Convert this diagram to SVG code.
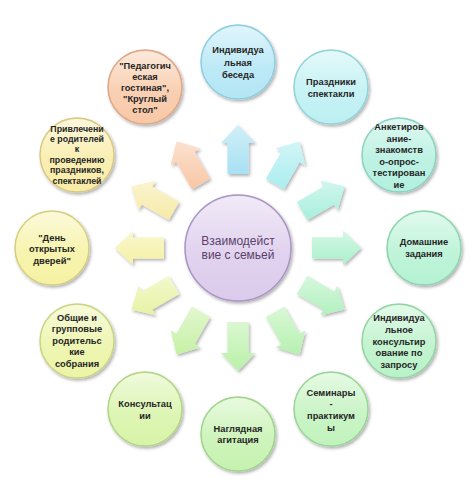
<svg xmlns="http://www.w3.org/2000/svg" width="474" height="488" viewBox="0 0 474 488">
<defs>
<filter id="sh" x="-25%" y="-25%" width="160%" height="160%"><feDropShadow dx="1.5" dy="2" stdDeviation="1.6" flood-color="#000" flood-opacity="0.3"/></filter>
<linearGradient id="gl" x1="0" y1="0" x2="0" y2="1"><stop offset="0" stop-color="#fff" stop-opacity="0.6"/><stop offset="0.55" stop-color="#fff" stop-opacity="0.15"/><stop offset="1" stop-color="#fff" stop-opacity="0"/></linearGradient>
<linearGradient id="ga" x1="0" y1="0" x2="0" y2="1"><stop offset="0" stop-color="#fff" stop-opacity="0.5"/><stop offset="1" stop-color="#fff" stop-opacity="0.05"/></linearGradient>
</defs>
<style>
.c{stroke-width:1.5;filter:url(#sh)}
.o{fill:url(#gl);stroke:none}
.a{filter:url(#sh);stroke:none}
.ao{fill:url(#ga);stroke:none}
.t{font-family:"Liberation Sans",Arial,sans-serif;font-weight:bold;font-size:9.3px;fill:#262626;text-anchor:middle}
.s{font-size:8.8px}
.m{font-family:"Liberation Sans",Arial,sans-serif;font-size:12px;fill:#5b3f6b;text-anchor:middle}
</style>
<rect width="474" height="488" fill="#fff"/>
<g id="connectors">
<polygon class="a" fill="#a3dff2" points="227.5,174 227.5,143 221,143 238,125 255,143 248.5,143 248.5,174"/>
<polygon class="ao" points="227.5,174 227.5,143 221,143 238,125 255,143 248.5,143 248.5,174"/>
<polygon class="a" fill="#a6ecef" points="265.91,178.67 281.41,151.82 275.78,148.57 299.5,141.48 305.22,165.57 299.59,162.32 284.09,189.17"/>
<polygon class="ao" points="265.91,178.67 281.41,151.82 275.78,148.57 299.5,141.48 305.22,165.57 299.59,162.32 284.09,189.17"/>
<polygon class="a" fill="#a3eedb" points="296.83,201.91 323.68,186.41 320.43,180.78 344.52,186.5 337.43,210.22 334.18,204.59 307.33,220.09"/>
<polygon class="ao" points="296.83,201.91 323.68,186.41 320.43,180.78 344.52,186.5 337.43,210.22 334.18,204.59 307.33,220.09"/>
<polygon class="a" fill="#a6f0c9" points="312,237.5 343,237.5 343,231 361,248 343,265 343,258.5 312,258.5"/>
<polygon class="ao" points="312,237.5 343,237.5 343,231 361,248 343,265 343,258.5 312,258.5"/>
<polygon class="a" fill="#aef0bb" points="307.33,275.91 334.18,291.41 337.43,285.78 344.52,309.5 320.43,315.22 323.68,309.59 296.83,294.09"/>
<polygon class="ao" points="307.33,275.91 334.18,291.41 337.43,285.78 344.52,309.5 320.43,315.22 323.68,309.59 296.83,294.09"/>
<polygon class="a" fill="#b3f0ad" points="284.09,306.83 299.59,333.68 305.22,330.43 299.5,354.52 275.78,347.43 281.41,344.18 265.91,317.33"/>
<polygon class="ao" points="284.09,306.83 299.59,333.68 305.22,330.43 299.5,354.52 275.78,347.43 281.41,344.18 265.91,317.33"/>
<polygon class="a" fill="#b6f0a4" points="248.5,322 248.5,353 255,353 238,371 221,353 227.5,353 227.5,322"/>
<polygon class="ao" points="248.5,322 248.5,353 255,353 238,371 221,353 227.5,353 227.5,322"/>
<polygon class="a" fill="#c4f0a0" points="210.09,317.33 194.59,344.18 200.22,347.43 176.5,354.52 170.78,330.43 176.41,333.68 191.91,306.83"/>
<polygon class="ao" points="210.09,317.33 194.59,344.18 200.22,347.43 176.5,354.52 170.78,330.43 176.41,333.68 191.91,306.83"/>
<polygon class="a" fill="#e6f29e" points="179.17,294.09 152.32,309.59 155.57,315.22 131.48,309.5 138.57,285.78 141.82,291.41 168.67,275.91"/>
<polygon class="ao" points="179.17,294.09 152.32,309.59 155.57,315.22 131.48,309.5 138.57,285.78 141.82,291.41 168.67,275.91"/>
<polygon class="a" fill="#f4f0a0" points="164,258.5 133,258.5 133,265 115,248 133,231 133,237.5 164,237.5"/>
<polygon class="ao" points="164,258.5 133,258.5 133,265 115,248 133,231 133,237.5 164,237.5"/>
<polygon class="a" fill="#f6e9a2" points="168.67,220.09 141.82,204.59 138.57,210.22 131.48,186.5 155.57,180.78 152.32,186.41 179.17,201.91"/>
<polygon class="ao" points="168.67,220.09 141.82,204.59 138.57,210.22 131.48,186.5 155.57,180.78 152.32,186.41 179.17,201.91"/>
<polygon class="a" fill="#f8c4a0" points="191.91,189.17 176.41,162.32 170.78,165.57 176.5,141.48 200.22,148.57 194.59,151.82 210.09,178.67"/>
<polygon class="ao" points="191.91,189.17 176.41,162.32 170.78,165.57 176.5,141.48 200.22,148.57 194.59,151.82 210.09,178.67"/>
</g>
<g id="center">
<circle class="c" cx="238" cy="248" r="53" fill="#dccbec" stroke="#a896c4"/>
<circle class="o" cx="238" cy="248" r="52"/>
<text class="m" x="238" y="245">Взаимодейст<tspan x="238" dy="14">вие с семьей</tspan></text>
</g>
<g id="n0">
<circle class="c" cx="238" cy="62" r="37" fill="#b3e6f5" stroke="#8fcde0"/>
<circle class="o" cx="238" cy="62" r="36"/>
<text class="t" x="238" y="53.4">Индивидуа<tspan x="238" dy="12.5">льная</tspan><tspan x="238" dy="12.5">беседа</tspan></text>
</g>
<g id="n1">
<circle class="c" cx="331" cy="87" r="37" fill="#bdf0f2" stroke="#93d3d8"/>
<circle class="o" cx="331" cy="87" r="36"/>
<text class="t" x="331" y="85">Праздники<tspan x="331" dy="12">спектакли</tspan></text>
</g>
<g id="n2">
<circle class="c" cx="399" cy="155" r="37" fill="#b3f0df" stroke="#8ed1c0"/>
<circle class="o" cx="399" cy="155" r="36"/>
<text class="t" x="399" y="130">Анкетиров<tspan x="399" dy="11.6">ание-</tspan><tspan x="399" dy="11.6">знакомств</tspan><tspan x="399" dy="11.6">о-опрос-</tspan><tspan x="399" dy="11.6">тестирован</tspan><tspan x="399" dy="11.6">ие</tspan></text>
</g>
<g id="n3">
<circle class="c" cx="424" cy="248" r="37" fill="#b5f2d3" stroke="#8fd3b0"/>
<circle class="o" cx="424" cy="248" r="36"/>
<text class="t" x="424" y="245">Домашние<tspan x="424" dy="12">задания</tspan></text>
</g>
<g id="n4">
<circle class="c" cx="399" cy="341" r="37" fill="#b9f2c8" stroke="#95d3a5"/>
<circle class="o" cx="399" cy="341" r="36"/>
<text class="t" x="399" y="321">Индивидуа<tspan x="399" dy="11.8">льное</tspan><tspan x="399" dy="11.8">консультир</tspan><tspan x="399" dy="11.8">ование по</tspan><tspan x="399" dy="11.8">запросу</tspan></text>
</g>
<g id="n5">
<circle class="c" cx="331" cy="409" r="37" fill="#c1f3bd" stroke="#9bd49a"/>
<circle class="o" cx="331" cy="409" r="36"/>
<text class="t" x="331" y="395.7">Семинары<tspan x="331" dy="11.7">-</tspan><tspan x="331" dy="11.7">практикум</tspan><tspan x="331" dy="11.7">ы</tspan></text>
</g>
<g id="n6">
<circle class="c" cx="238" cy="434" r="37" fill="#c6f2b0" stroke="#a0d48e"/>
<circle class="o" cx="238" cy="434" r="36"/>
<text class="t" x="238" y="431.7">Наглядная<tspan x="238" dy="11">агитация</tspan></text>
</g>
<g id="n7">
<circle class="c" cx="145" cy="409" r="37" fill="#d8f4a8" stroke="#b3d488"/>
<circle class="o" cx="145" cy="409" r="36"/>
<text class="t" x="145" y="406.7">Консультац<tspan x="145" dy="12.3">ии</tspan></text>
</g>
<g id="n8">
<circle class="c" cx="77" cy="341" r="37" fill="#ecf4a6" stroke="#c8d488"/>
<circle class="o" cx="77" cy="341" r="36"/>
<text class="t" x="77" y="320.7">Общие и<tspan x="77" dy="11.5">групповые</tspan><tspan x="77" dy="11.5">родительс</tspan><tspan x="77" dy="11.5">кие</tspan><tspan x="77" dy="11.5">собрания</tspan></text>
</g>
<g id="n9">
<circle class="c" cx="52" cy="248" r="37" fill="#f6f2a2" stroke="#d4cf84"/>
<circle class="o" cx="52" cy="248" r="36"/>
<text class="t" x="52" y="240.7">"День<tspan x="52" dy="11.4">открытых</tspan><tspan x="52" dy="11.4">дверей"</tspan></text>
</g>
<g id="n10">
<circle class="c" cx="77" cy="155" r="37" fill="#f8eca6" stroke="#d8c888"/>
<circle class="o" cx="77" cy="155" r="36"/>
<text class="t s" x="77" y="131.5">Привлечени<tspan x="77" dy="10.4">е родителей</tspan><tspan x="77" dy="10.4">к</tspan><tspan x="77" dy="10.4">проведению</tspan><tspan x="77" dy="10.4">праздников,</tspan><tspan x="77" dy="10.4">спектаклей</tspan></text>
</g>
<g id="n11">
<circle class="c" cx="145" cy="87" r="37" fill="#f8c8a6" stroke="#dca888"/>
<circle class="o" cx="145" cy="87" r="36"/>
<text class="t" x="145" y="69">"Педагогич<tspan x="145" dy="11">еская</tspan><tspan x="145" dy="11">гостиная",</tspan><tspan x="145" dy="11">"Круглый</tspan><tspan x="145" dy="11">стол"</tspan></text>
</g>
</svg>
